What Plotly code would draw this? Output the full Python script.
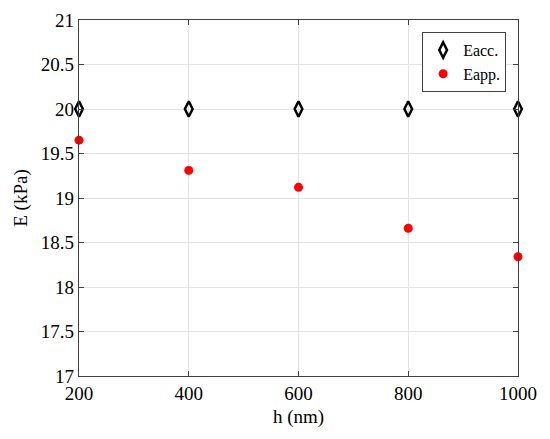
import plotly.graph_objects as go

h_nm = [200, 400, 600, 800, 1000]
e_acc = [20.0, 20.0, 20.0, 20.0, 20.0]
e_app = [19.65, 19.31, 19.12, 18.66, 18.34]
y_ticks = [17, 17.5, 18, 18.5, 19, 19.5, 20, 20.5, 21]
y_labels = ['17', '17.5', '18', '18.5', '19', '19.5', '20', '20.5', '21']

SERIF = 'Liberation Serif'

fig = go.Figure()
fig.add_trace(go.Scatter(x=h_nm, y=e_acc, mode='markers', name='Eacc.',
                         marker=dict(symbol='diamond-tall-open', size=11, color='black',
                                     line=dict(width=2.5, color='black')),
                         cliponaxis=False))
fig.add_trace(go.Scatter(x=h_nm, y=e_app, mode='markers', name='Eapp.',
                         marker=dict(symbol='circle', size=9, color='#ff0000'),
                         cliponaxis=False))

axis_style = dict(showline=True, linecolor='#404040', linewidth=1.2, mirror='ticks',
                  ticks='inside', ticklen=5, tickcolor='#404040',
                  showgrid=True, gridcolor='#e3e3e3', gridwidth=1, zeroline=False,
                  automargin=False,
                  tickfont=dict(family=SERIF, size=19, color='black'))

fig.update_xaxes(range=[200, 1000], tickvals=h_nm,
                 title=dict(text='h (nm)', font=dict(family=SERIF, size=19, color='black'), standoff=6),
                 **axis_style)
fig.update_yaxes(range=[17, 21], tickvals=y_ticks, ticktext=y_labels,
                 title=dict(text='E (kPa)', font=dict(family=SERIF, size=19, color='black'), standoff=8),
                 **axis_style)

# page body adds 8px offset, so size/margins are trimmed to land the axes in place
fig.update_layout(width=542, height=431,
                  margin=dict(l=71, r=32, t=12, b=63),
                  paper_bgcolor='white', plot_bgcolor='white',
                  font=dict(family=SERIF, color='black'),
                  legend=dict(x=0.973, y=0.966, xanchor='right', yanchor='top',
                              bordercolor='#404040', borderwidth=1, bgcolor='white',
                              font=dict(family=SERIF, size=16, color='black')),
                  showlegend=True)

fig.write_html("out.html")
